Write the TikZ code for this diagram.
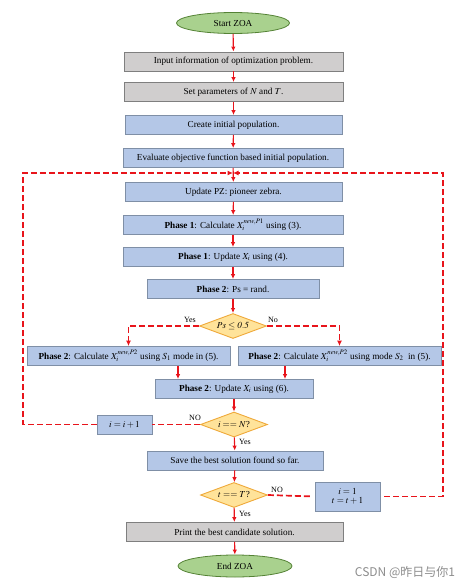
\documentclass[tikz,border=0pt]{standalone}
\usepackage{amsmath}
\usepackage{mathptmx}
\usepackage{fontspec}
\setmainfont{Liberation Serif}
\newfontfamily\cjk{Noto Sans CJK SC}
\usetikzlibrary{shapes.geometric,arrows.meta}

\definecolor{boxgray}{HTML}{D0CECE}
\definecolor{edgegray}{HTML}{7F7F7F}
\definecolor{boxblue}{HTML}{B4C7E7}
\definecolor{edgeblue}{HTML}{7F8FA6}
\definecolor{termgreen}{HTML}{A9D18E}
\definecolor{edgegreen}{HTML}{548235}
\definecolor{decyellow}{HTML}{FFE39A}
\definecolor{edgeorange}{HTML}{EFA93A}
\definecolor{flowred}{HTML}{E8141B}

\tikzset{
  box/.style={draw, line width=0.8pt, minimum height=19pt, inner sep=1pt,
    font=\fontsize{9.2}{11}\selectfont},
  graybox/.style={box, fill=boxgray, draw=edgegray},
  bluebox/.style={box, fill=boxblue, draw=edgeblue},
  term/.style={ellipse, draw=edgegreen, fill=termgreen, line width=0.8pt,
    minimum width=113pt, minimum height=21pt, font=\fontsize{9.2}{11}\selectfont},
  decide/.style={diamond, aspect=2.7, draw=edgeorange, fill=decyellow, line width=0.9pt,
    minimum width=67pt, minimum height=25pt, inner sep=0pt, font=\fontsize{9.2}{11}\selectfont},
  flow/.style={flowred, line width=1.1pt, -{Latex[length=5pt,width=4.5pt]}},
  loopline/.style={flowred, line width=1.7pt, dash pattern=on 6pt off 3pt},
  tag/.style={font=\fontsize{8}{9}\selectfont, inner sep=0pt},
}

\begin{document}
\begin{tikzpicture}[x=1pt,y=-1pt]
    \useasboundingbox (0,0) rectangle (474,586);

    % main column of the flow chart
    \node[term] (start) at (233,23) {Start ZOA};
    \node[graybox, minimum width=219pt] (input) at (233.5,61.5) {Input information of optimization problem.};
    \node[graybox, minimum width=219pt] (params) at (233.5,92) {Set parameters of $N$ and $T$.};
    \node[bluebox, minimum width=217pt] (init) at (233.5,125) {Create initial population.};
    \node[bluebox, minimum width=220pt] (eval) at (233,158) {Evaluate objective function based initial population.};
    \node[bluebox, minimum width=217pt] (pz) at (233.5,192) {Update PZ: pioneer zebra.};
    \node[bluebox, minimum width=220pt] (ph1calc) at (233,225) {\textbf{Phase 1}: Calculate $X_i^{new,P1}$ using (3).};
    \node[bluebox, minimum width=220pt] (ph1upd) at (233,257) {\textbf{Phase 1}: Update $X_i$ using (4).};
    \node[bluebox, minimum width=172pt] (ph2ps) at (233,289) {\textbf{Phase 2}: Ps = rand.};
    \node[decide] (ps) at (233,326) {$\mathit{Ps} \le \mathit{0.5}$};
    \node[bluebox, minimum width=203pt] (ph2s1) at (128.5,356) {\textbf{Phase 2}: Calculate $X_i^{new,P2}$ using $S_1$ mode in (5).};
    \node[bluebox, minimum width=203pt] (ph2s2) at (339.5,356) {\textbf{Phase 2}: Calculate $X_i^{new,P2}$ using mode $S_2$~ in (5).};
    \node[bluebox, minimum width=158pt] (ph2upd) at (234,389) {\textbf{Phase 2}: Update $X_i$ using (6).};
    \node[decide] (iN) at (234,424.5) {$i == N$?};
    \node[bluebox, minimum width=55pt] (inc) at (124.5,424.5) {$i = i + 1$};
    \node[bluebox, minimum width=176pt] (save) at (235,460.5) {Save the best solution found so far.};
    \node[decide] (tT) at (234,495) {$t == T$?};
    \node[bluebox, minimum width=65pt, minimum height=29pt, align=center] (reset) at (347.5,496.5) {$i = 1$\\[-2pt]$t = t + 1$};
    \node[graybox, minimum width=217pt] (print) at (234.5,532) {Print the best candidate solution.};
    \node[term, minimum width=114pt, minimum height=22pt] (stop) at (235,566) {End ZOA};

    % loop corners
    \coordinate (top) at (233,173);
    \coordinate (s1x) at (178,0);
    \coordinate (s2x) at (285,0);
    \coordinate (leftx) at (23,0);
    \coordinate (rightx) at (443,0);

    % solid arrows
    \draw[flow] (start) -- (input);
    \draw[flow] (input) -- (params);
    \draw[flow] (params) -- (init);
    \draw[flow] (init) -- (eval);
    \draw[flow] (eval) -- (pz);
    \draw[flow] (pz) -- (ph1calc);
    \draw[flow] (ph1calc) -- (ph1upd);
    \draw[flow] (ph1upd) -- (ph2ps);
    \draw[flow] (ph2ps) -- (ps);
    \draw[flow] (s1x |- ph2s1.south) -- (s1x |- ph2upd.north);
    \draw[flow] (s2x |- ph2s2.south) -- (s2x |- ph2upd.north);
    \draw[flow] (ph2upd) -- (iN);
    \draw[flow] (iN) -- (save);
    \draw[flow] (save) -- (tT);
    \draw[flow] (tT) -- (print);
    \draw[flow] (print) -- (stop);

    % dashed branches
    \draw[loopline, -{Latex[length=5.5pt,width=5pt]}] (ps.west) -| (ph2s1.north);
    \draw[loopline, -{Latex[length=5.5pt,width=5pt]}] (ps.east) -| (ph2s2.north);
    \draw[loopline] (iN.west) -- (inc.east);
    \draw[loopline, -{Latex[length=5.5pt,width=5pt]}] (inc.west) -- (leftx |- inc) -- (leftx |- top) -- (top);
    \draw[loopline, shorten >=4pt] (tT.east) -- (reset.west);
    \draw[loopline, -{Latex[length=5.5pt,width=5pt]}, shorten <=4pt] (reset.east) -- (rightx |- reset) -- (rightx |- top) -- (top);

    % branch labels
    \node[tag] (yes1) at (190,320) {Yes};
    \node[tag] (no1) at (273,320) {No};
    \node[tag] (no2) at (195,418) {NO};
    \node[tag] (yes2) at (245,442) {Yes};
    \node[tag] (no3) at (277,490) {NO};
    \node[tag] (yes3) at (245,514) {Yes};

    % watermark
    \node[text=black!45, font=\cjk\fontsize{12}{14}\selectfont] (mark) at (405,572) {CSDN @昨日与你1};
\end{tikzpicture}
\end{document}
